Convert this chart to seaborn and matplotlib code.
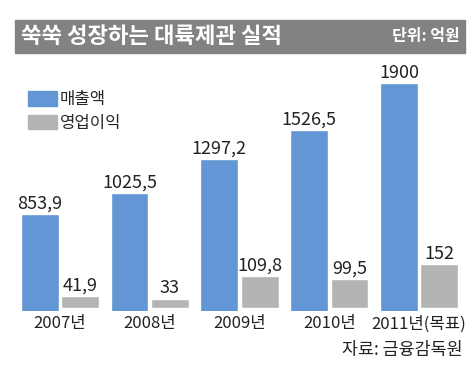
import pandas as pd
import seaborn as sns
import matplotlib.pyplot as plt
from matplotlib.patches import Rectangle, Patch

years = ['2007년', '2008년', '2009년', '2010년', '2011년(목표)']
sales = [853.9, 1025.5, 1297.2, 1526.5, 1900]
profit = [41.9, 33, 109.8, 99.5, 152]
sales_labels = ['853,9', '1025,5', '1297,2', '1526,5', '1900']
profit_labels = ['41,9', '33', '109,8', '99,5', '152']
series = ['매출액', '영업이익']
colors = {'매출액': '#6396d4', '영업이익': '#b4b4b4'}

# the two series are drawn on separate scales, like the original graphic
df_sales = pd.DataFrame({'year': years, 'value': sales, 'series': series[0]})
df_profit = pd.DataFrame({'year': years, 'value': profit, 'series': series[1]})

sns.set_style('white')
plt.rcParams['font.family'] = ['Noto Sans CJK KR', 'DejaVu Sans']

fig = plt.figure(figsize=(4.74, 3.76), dpi=100)
ax = fig.add_axes([15 / 474, 65 / 376, 449 / 474, 250 / 376])
ax2 = ax.twinx()

sns.barplot(data=df_sales, x='year', y='value', hue='series', hue_order=series,
            palette=colors, width=0.9, gap=0.06, dodge=True, saturation=1,
            ax=ax, legend=False)
sns.barplot(data=df_profit, x='year', y='value', hue='series', hue_order=series,
            palette=colors, width=0.9, gap=0.06, dodge=True, saturation=1,
            ax=ax2, legend=False)

ax.set_ylim(84, 84 + 250 / 0.1255)
ax2.set_ylim(-10, -10 + 250 / 0.29)
for a in (ax, ax2):
    a.set_xlim(-0.5, 4.5)
    for s in a.spines.values():
        s.set_visible(False)
    a.set_yticks([])
    a.set_xlabel('')
    a.set_ylabel('')
ax.tick_params(axis='x', length=0, pad=3, labelsize=12, labelcolor='#222222')

for c in ax.containers:
    if len(c):
        ax.bar_label(c, labels=sales_labels, padding=1, fontsize=13, color='#222222')
for c in ax2.containers:
    if len(c):
        ax2.bar_label(c, labels=profit_labels, padding=1, fontsize=13, color='#222222')

handles = [Patch(color=colors[s]) for s in series]
ax.legend(handles, series, loc='upper left', bbox_to_anchor=(20 / 474, 293 / 376),
          bbox_transform=fig.transFigure, frameon=False, fontsize=12,
          handlelength=1.7, handleheight=0.95, handletextpad=0.2,
          labelspacing=0.4, borderpad=0)

# title bar
fig.patches.append(Rectangle((15 / 474, 323 / 376), 450 / 474, 33 / 376,
                             transform=fig.transFigure, color='#828282', zorder=0))
fig.text(21 / 474, 339.5 / 376, '쑥쑥 성장하는 대륙제관 실적', color='white',
         fontsize=16, fontweight='bold', va='center', ha='left')
fig.text(460 / 474, 339.5 / 376, '단위: 억원', color='white',
         fontsize=11.5, fontweight='bold', va='center', ha='right')
fig.text(463 / 474, 26 / 376, '자료: 금융감독원', color='#222222',
         fontsize=12.5, va='center', ha='right')

fig.savefig('out.png', dpi=100)
